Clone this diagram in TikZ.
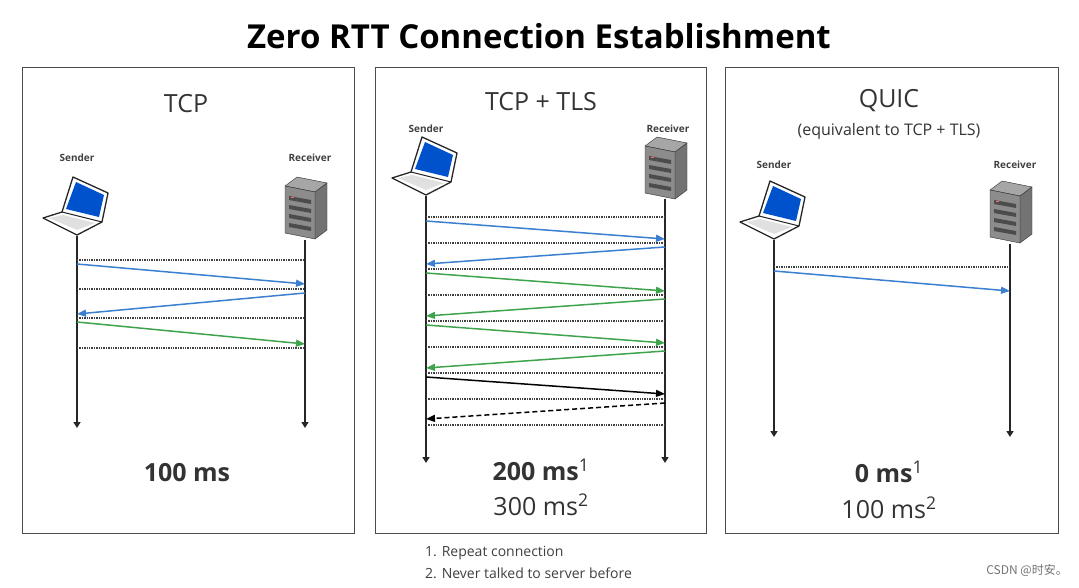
\documentclass[tikz,border=0pt]{standalone}
\usepackage{fontspec}
\setmainfont{Open Sans}
\newfontfamily\cjk{Noto Sans CJK SC}
\usetikzlibrary{arrows.meta}
\definecolor{ablue}{HTML}{3A7FD0}
\definecolor{agreen}{HTML}{3FA34D}
\begin{document}
\begin{tikzpicture}[x=1pt,y=-1pt,
  panel/.style={draw=black!70,line width=1pt},
  life/.style={line width=1.5pt,black!85,-{Triangle[width=7pt,length=6pt]}},
  dot/.style={dash pattern=on 1.4pt off 1pt,line width=1.3pt,black!75},
  msg/.style={line width=1.5pt,-{Triangle[width=7pt,length=9pt]}},
  lbl/.style={font=\fontsize{10}{12}\selectfont\bfseries,text=black!75,inner sep=0},
  ttl/.style={font=\fontsize{25}{30}\selectfont,text=black!80,inner sep=0},
  big/.style={font=\fontsize{25}{30}\selectfont,text=black!80,inner sep=0},
  laptop/.pic={
    \fill[white,draw=black!85,line width=1.3pt,line join=round] (-4,-31)--(31,-15)--(25,14)--(0,27)--(-34,10)--(-15,4)--cycle;
    \draw[black!85,line width=1pt] (-15,4)--(25,14);
    \fill[blue!60!cyan!80!black] (-1,-26)--(27,-13)--(22,9)--(-11,1)--cycle;
    \fill[black!12] (-28,10)--(-14,7)--(18,15)--(0,22)--cycle;
  },
  server/.pic={
    \fill[black!35,draw=black!80] (-20,-22)--(-8,-31)--(22,-25)--(10,-16)--cycle;
    \fill[black!55,draw=black!80] (10,-16)--(22,-25)--(22,22)--(10,31)--cycle;
    \fill[black!45,draw=black!80] (-20,-22)--(10,-16)--(10,31)--(-20,25)--cycle;
    \foreach \i in {0,1,2,3} \fill[black!70] (-16,{-12+\i*9})--(6,{-8+\i*9})--(6,{-4+\i*9})--(-16,{-8+\i*9})--cycle;
    \fill[red!60] (-14,-11) rectangle (-11,-10);
  }]
\useasboundingbox (0,0) rectangle (1079,588);
\node[font=\fontsize{33}{38}\selectfont\bfseries,inner sep=0] (title) at (539,36) {Zero RTT Connection Establishment};
% panels
\draw[panel] (22,68) rectangle (354,533);
\draw[panel] (375,68) rectangle (706,533);
\draw[panel] (725,68) rectangle (1058,533);
% ---- TCP
\node[ttl] (t1) at (186,104) {TCP};
\node[lbl] (s1l) at (77,158) {Sender};
\node[lbl] (r1l) at (310,158) {Receiver};
\pic at (77,208) {laptop};
\pic at (305,208) {server};
\coordinate (s1) at (77,236); \coordinate (s1e) at (77,428);
\coordinate (r1) at (305,240); \coordinate (r1e) at (305,428);
\draw[life] (s1) -- (s1e); \draw[life] (r1) -- (r1e);
\foreach \y in {260,289,318,348} \draw[dot] (77,\y) -- (305,\y);
\draw[msg,ablue] (77,264) -- (305,284);
\draw[msg,ablue] (305,293) -- (77,314);
\draw[msg,agreen] (77,322) -- (305,344);
\node[big,font=\fontsize{25}{30}\selectfont\bfseries] (m1) at (187,473) {100 ms};
% ---- TCP+TLS
\node[ttl] (t2) at (541,102) {TCP + TLS};
\node[lbl] (s2l) at (426,129) {Sender};
\node[lbl] (r2l) at (668,129) {Receiver};
\pic at (426,168) {laptop};
\pic at (665,168) {server};
\coordinate (s2) at (426,196); \coordinate (s2e) at (426,463);
\coordinate (r2) at (665,199); \coordinate (r2e) at (665,463);
\draw[life] (s2) -- (s2e); \draw[life] (r2) -- (r2e);
\foreach \y in {217,243,269,295,321,347,373,399,425} \draw[dot] (426,\y) -- (665,\y);
\draw[msg,ablue] (426,221) -- (665,239);
\draw[msg,ablue] (665,247) -- (426,264);
\draw[msg,agreen] (426,273) -- (665,291);
\draw[msg,agreen] (665,299) -- (426,316);
\draw[msg,agreen] (426,325) -- (665,343);
\draw[msg,agreen] (665,351) -- (426,368);
\draw[msg,black] (426,377) -- (665,394);
\draw[msg,black,dash pattern=on 5pt off 3pt] (665,403) -- (426,419);
\node[big] (m2a) at (541,470) {\textbf{200 ms}\textsuperscript{1}};
\node[big] (m2b) at (541,505) {300 ms\textsuperscript{2}};
% ---- QUIC
\node[ttl] (t3) at (889,101) {QUIC};
\node[font=\fontsize{16}{19}\selectfont,text=black!80,inner sep=0] (t3b) at (889,131) {(equivalent to TCP + TLS)};
\node[lbl] (s3l) at (774,165) {Sender};
\node[lbl] (r3l) at (1015,165) {Receiver};
\pic at (774,212) {laptop};
\pic at (1010,212) {server};
\coordinate (s3) at (774,240); \coordinate (s3e) at (774,437);
\coordinate (r3) at (1010,244); \coordinate (r3e) at (1010,437);
\draw[life] (s3) -- (s3e); \draw[life] (r3) -- (r3e);
\draw[dot] (774,267) -- (1010,267);
\draw[msg,ablue] (774,271) -- (1010,291);
\node[big] (m3a) at (889,472) {\textbf{0 ms}\textsuperscript{1}};
\node[big] (m3b) at (889,508) {100 ms\textsuperscript{2}};
% footnotes
\node[anchor=west,font=\fontsize{14}{16}\selectfont,text=black!75,inner sep=0] (f1) at (425,553) {1. Repeat connection};
\node[anchor=west,font=\fontsize{14}{16}\selectfont,text=black!75,inner sep=0] (f2) at (425,573) {2. Never talked to server before};
\node[anchor=east,font=\fontsize{12}{14}\selectfont\cjk,text=black!55,inner sep=0] (wm) at (1068,570) {CSDN @时安。};
\end{tikzpicture}
\end{document}
